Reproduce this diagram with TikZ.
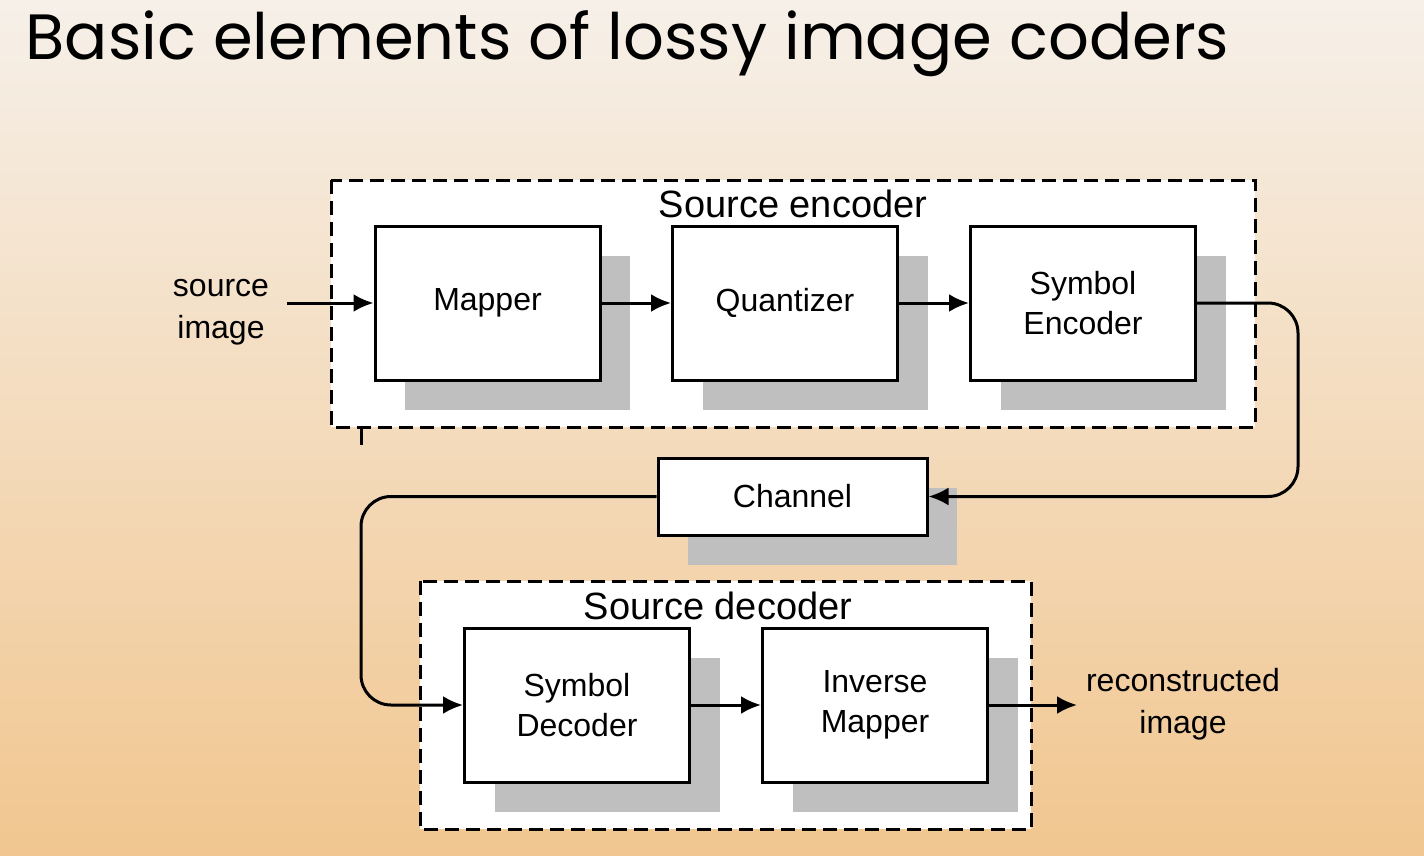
\documentclass[tikz,border=0pt]{standalone}
\usepackage{fontspec}
\setmainfont{Liberation Sans}
\newfontfamily\titlefont{Poppins}
\usetikzlibrary{shadows,arrows.meta}
\begin{document}
\begin{tikzpicture}[x=1pt,y=-1pt,
  blk/.style={draw,line width=3pt,fill=white,minimum width=225pt,minimum height=154pt,align=center,font=\fontsize{32}{40}\selectfont,inner sep=0pt,
    drop shadow={shadow xshift=30pt,shadow yshift=-30pt,fill=black!25,opacity=1}},
  cont/.style={draw,line width=3pt,fill=white,dash pattern=on 14pt off 7pt},
  arr/.style={line width=3pt,-{Latex[length=20pt,width=18pt]},rounded corners=30pt},
  lbl/.style={font=\fontsize{32}{42}\selectfont,align=center}]
\useasboundingbox (0,0) rectangle (1424,856);
\shade[top color={rgb,255:red,246;green,240;blue,233},bottom color={rgb,255:red,241;green,198;blue,143}] (0,0) rectangle (1424,856);
\begin{scope}[opacity=0.35]
\path (25,47) node[anchor=west,font=\titlefont\fontsize{64}{72}\selectfont] {\phantom{B}};
\end{scope}
\node[anchor=west,font=\titlefont\fontsize{64}{72}\selectfont] (title) at (22,44) {Basic elements of lossy image coders};
\draw[cont] (331,180) rectangle (1255,427);
\draw[line width=3pt] (361,427) -- (361,445);
\draw[cont] (420,581) rectangle (1031,829);
\node[lbl,font=\fontsize{38}{44}\selectfont] (enc) at (793,204) {Source encoder};
\node[lbl,font=\fontsize{38}{44}\selectfont] (dec) at (718,606) {Source decoder};
\node[blk] (map) at (487.5,303) {Mapper};
\node[blk] (qua) at (785,303) {Quantizer};
\node[blk] (sen) at (1083,303) {Symbol\\Encoder};
\node[blk,minimum width=269pt,minimum height=77pt] (chn) at (792.5,496.5) {Channel};
\node[blk] (sde) at (577,705) {Symbol\\Decoder};
\node[blk] (imp) at (875,705) {Inverse\\Mapper};
\node[lbl] (src) at (221,312) {source\\image};
\node[lbl] (rec) at (1183,704) {reconstructed\\image};
\coordinate (s0) at (287,303);
\coordinate (r0) at (1077,705);
\draw[arr] (s0) -- (map.west);
\draw[arr] (map) -- (qua);
\draw[arr] (qua) -- (sen);
\draw[arr] (sen.east) -- (1298,303) -- (1298,496.5) -- (chn.east);
\draw[arr] (chn.west) -- (361,496.5) -- (361,705) -- (sde.west);
\draw[arr] (sde) -- (imp);
\draw[arr] (imp.east) -- (r0);
\end{tikzpicture}
\end{document}
